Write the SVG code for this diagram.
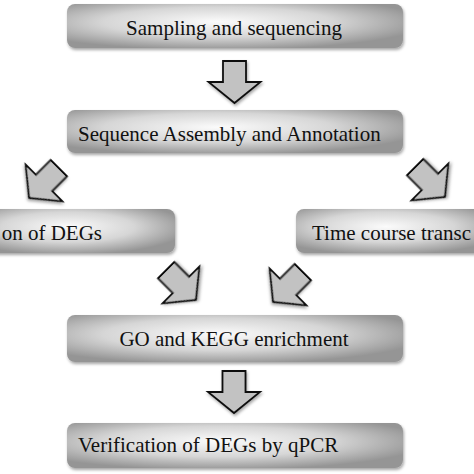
<svg xmlns="http://www.w3.org/2000/svg" width="474" height="474" viewBox="0 0 474 474">
<defs>
<radialGradient id="g" cx="0.45" cy="0.42" r="0.62" fx="0.45" fy="0.4">
<stop offset="0" stop-color="#fbfbfb"/>
<stop offset="0.55" stop-color="#d6d6d6"/>
<stop offset="1" stop-color="#959595"/>
</radialGradient>
<filter id="sh" x="-10%" y="-20%" width="120%" height="150%">
<feDropShadow dx="1" dy="2" stdDeviation="1.5" flood-color="#000" flood-opacity="0.35"/>
</filter>
<path id="arr" d="M-11.5,-21 H11.5 V0 H26 L0,21 L-26,0 H-11.5 Z"/>
</defs>
<style>
.box{fill:url(#g);filter:url(#sh);}
.t{font-size:21px;fill:#111;}
.a{fill:#c2c2c2;stroke:#111;stroke-width:1.8;stroke-linejoin:miter;filter:url(#sh);}
</style>
<rect width="474" height="474" fill="#fff"/>
<g id="connectors">
<use href="#arr" class="a" transform="translate(234.5,82)"/>
<use href="#arr" class="a" transform="translate(44,183) rotate(45)"/>
<use href="#arr" class="a" transform="translate(430,182) rotate(-45)"/>
<use href="#arr" class="a" transform="translate(181,285) rotate(-45)"/>
<use href="#arr" class="a" transform="translate(288,287) rotate(45)"/>
<use href="#arr" class="a" transform="translate(234,392)"/>
</g>
<g id="n1"><rect class="box" x="67" y="4" width="336" height="44" rx="8"/><text class="t" font-family="Liberation Serif, DejaVu Serif, serif" x="234" y="35" text-anchor="middle">Sampling and sequencing</text></g>
<g id="n2"><rect class="box" x="67" y="110" width="336" height="43" rx="8"/><text class="t" font-family="Liberation Serif, DejaVu Serif, serif" x="78" y="141">Sequence Assembly and Annotation</text></g>
<g id="n3"><rect class="box" x="-20" y="209" width="195" height="44" rx="8"/><text class="t" font-family="Liberation Serif, DejaVu Serif, serif" x="102" y="240" text-anchor="end">on of DEGs</text></g>
<g id="n4"><rect class="box" x="296" y="209" width="200" height="44" rx="8"/><text class="t" font-family="Liberation Serif, DejaVu Serif, serif" x="312" y="240">Time course transc</text></g>
<g id="n5"><rect class="box" x="67" y="315" width="336" height="47" rx="8"/><text class="t" font-family="Liberation Serif, DejaVu Serif, serif" x="234" y="346" text-anchor="middle">GO and KEGG enrichment</text></g>
<g id="n6"><rect class="box" x="67" y="423" width="336" height="45" rx="8"/><text class="t" font-family="Liberation Serif, DejaVu Serif, serif" x="78" y="452">Verification of DEGs by qPCR</text></g>
</svg>
